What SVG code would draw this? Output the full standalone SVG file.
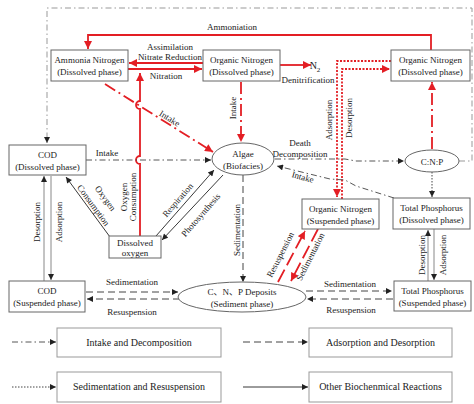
<svg xmlns="http://www.w3.org/2000/svg" width="474" height="404" viewBox="0 0 474 404">
<style>
text{font-family:"Liberation Serif","Noto Sans CJK SC",serif;font-size:9px;fill:#222;text-anchor:middle}
.lg{font-size:10px}
.box{fill:#fff;stroke:#666;stroke-width:1}
.lbox{fill:#fff;stroke:#999;stroke-width:1}
.red{stroke:#e31e24;stroke-width:1.8;fill:none}
.rdd{stroke:#e31e24;stroke-width:1.8;fill:none;stroke-dasharray:12 4 2 4}
.rdot{stroke:#e31e24;stroke-width:1.8;fill:none;stroke-dasharray:2 1.5}
.rdash{stroke:#e31e24;stroke-width:1.8;fill:none;stroke-dasharray:14 5}
.blk{stroke:#222;stroke-width:0.9;fill:none}
.dd{stroke:#444;stroke-width:0.9;fill:none;stroke-dasharray:6 3 1.5 3}
.dash{stroke:#444;stroke-width:1;fill:none;stroke-dasharray:7 4}
.dot{stroke:#444;stroke-width:1;fill:none;stroke-dasharray:1.5 1.5}
.gry{stroke:#888;stroke-width:1;fill:none}
.gdd{stroke:#999;stroke-width:1;fill:none;stroke-dasharray:6 3 1.5 3}
</style>
<defs>
<marker id="ar" viewBox="0 0 10 10" refX="10" refY="5" markerWidth="9" markerHeight="8" markerUnits="userSpaceOnUse" orient="auto"><path d="M0,0 L10,5 L0,10 z" fill="#e31e24"/></marker>
<marker id="ab" viewBox="0 0 10 10" refX="10" refY="5" markerWidth="8" markerHeight="6" markerUnits="userSpaceOnUse" orient="auto"><path d="M0,0 L10,5 L0,10 z" fill="#222"/></marker>
</defs>

<g id="connectors">
<!-- outer gray loop -->
<path class="gdd" d="M459,161 H472 V8 H47 V143" marker-end="url(#ab)"/>
<!-- Ammoniation -->
<path class="red" d="M431,50 V35 H88 V49" marker-end="url(#ar)"/>
<!-- Assimilation / Nitrate Reduction -->
<path class="red" d="M203,63 H129" marker-end="url(#ar)"/>
<!-- Nitration -->
<path class="red" d="M128,69 H202" marker-end="url(#ar)"/>
<!-- Denitrification -->
<path class="red" d="M280,65 H311" marker-end="url(#ar)"/>
<!-- Oxygen consumption red vertical with jumps -->
<path class="red" d="M140,236 V164 A4,4 0 0 1 140,156 V109 A4,4 0 0 1 140,101 V73" marker-end="url(#ar)"/>
<!-- Intake from Ammonia to Algae -->
<path class="rdd" d="M105,84 L213,152" marker-end="url(#ar)"/>
<!-- Intake organic N to algae -->
<path class="rdd" d="M241,82 V142" marker-end="url(#ar)"/>
<!-- Adsorption / Desorption dotted red -->
<path class="rdot" d="M391,61 H337 V197" marker-end="url(#ar)"/>
<path class="rdot" d="M342,199 V69 H390" marker-end="url(#ar)"/>
<!-- C:N:P to organic N dissolved -->
<path class="rdd" d="M432,149 V82" marker-end="url(#ar)"/>
<!-- COD intake -->
<path class="dd" d="M86,160 H211" marker-end="url(#ab)"/>
<!-- Death decomposition -->
<path class="dd" d="M275,159 H345 L356,161 H404" marker-end="url(#ab)"/>
<!-- Intake from TP -->
<path class="dd" d="M394,198 L356,186 L345,180 L330,179 L277,166" marker-end="url(#ab)"/>
<!-- C:N:P to TP dissolved -->
<path class="dot" d="M432,172 V197" marker-end="url(#ab)"/>
<!-- DO to COD -->
<path class="blk" d="M110,237 L66,177" marker-end="url(#ab)"/>
<!-- Respiration -->
<path class="blk" d="M156,236 L214,170" marker-end="url(#ab)"/>
<!-- Photosynthesis -->
<path class="blk" d="M223,175 L162,240" marker-end="url(#ab)"/>
<!-- Algae sedimentation -->
<path class="dash" d="M243,175 V282" marker-end="url(#ab)"/>
<!-- COD desorption/adsorption -->
<path class="gry" d="M44,281 V176" marker-end="url(#ab)"/>
<path class="gry" d="M51,176 V280" marker-end="url(#ab)"/>
<!-- TP desorption/adsorption -->
<path class="gry" d="M428,281 V230" marker-end="url(#ab)"/>
<path class="gry" d="M434,229 V280" marker-end="url(#ab)"/>
<!-- COD <-> deposits -->
<path class="dash" d="M86,292 H178" marker-end="url(#ab)"/>
<path class="dash" d="M180,299 H87" marker-end="url(#ab)"/>
<!-- deposits <-> TP -->
<path class="dash" d="M306,291 H392" marker-end="url(#ab)"/>
<path class="dash" d="M393,299 H307" marker-end="url(#ab)"/>
<!-- red resuspension/sedimentation -->
<path class="rdash" d="M278,282 L305,231" marker-end="url(#ar)"/>
<path class="rdash" d="M318,229 L291,281" marker-end="url(#ar)"/>
<!-- legend arrows -->
<path class="dd" d="M12,342 H56" marker-end="url(#ab)"/>
<path class="dash" d="M243,342 H308" marker-end="url(#ab)"/>
<path class="dot" d="M12,387 H56" marker-end="url(#ab)"/>
<path class="blk" d="M243,387 H308" marker-end="url(#ab)"/>
</g>

<g id="labels">
<text x="232" y="30">Ammoniation</text>
<text x="170" y="50">Assimilation</text>
<text x="170" y="60">Nitrate Reduction</text>
<text x="166" y="79">Nitration</text>
<text x="315" y="69" style="font-size:10px">N<tspan dy="3" style="font-size:7px">2</tspan></text>
<text x="308" y="83">Denitrification</text>
<text transform="translate(168,121) rotate(32)">Intake</text>
<text transform="translate(236,108) rotate(-90)">Intake</text>
<text transform="translate(332,120) rotate(-90)">Adsorption</text>
<text transform="translate(352,118) rotate(-90)">Desorption</text>
<text x="107" y="156">Intake</text>
<text x="300" y="146">Death</text>
<text x="300" y="157">Decomposition</text>
<text transform="translate(302,180) rotate(15)">Intake</text>
<text transform="translate(127,197) rotate(-90)">Oxygen</text>
<text transform="translate(136,197) rotate(-90)">Consumption</text>
<text transform="translate(103,200) rotate(54)">Oxygen</text>
<text transform="translate(91,207) rotate(54)">Consumption</text>
<text transform="translate(180,202) rotate(-49)">Respiration</text>
<text transform="translate(203,217) rotate(-49)">Photosynthesis</text>
<text transform="translate(240,230) rotate(-90)">Sedimentation</text>
<text transform="translate(40,222) rotate(-90)">Desorption</text>
<text transform="translate(62,222) rotate(-90)">Adsorption</text>
<text transform="translate(425,255) rotate(-90)">Desorption</text>
<text transform="translate(446,255) rotate(-90)">Adsorption</text>
<text transform="translate(283,256) rotate(-63)">Resuspension</text>
<text transform="translate(313,258) rotate(-63)">Sedimentation</text>
<text x="132" y="285">Sedimentation</text>
<text x="132" y="315">Resuspension</text>
<text x="350" y="287">Sedimentation</text>
<text x="351" y="313">Resuspension</text>
</g>

<g id="ammonia-n">
<rect class="box" x="51" y="50" width="77" height="31"/>
<text x="89.5" y="63">Ammonia Nitrogen</text>
<text x="89.5" y="75">(Dissolved phase)</text>
</g>
<g id="organic-n-dissolved">
<rect class="box" x="203" y="50" width="77" height="31"/>
<text x="241.5" y="63">Organic Nitrogen</text>
<text x="241.5" y="75">(Dissolved phase)</text>
</g>
<g id="organic-n-dissolved-2">
<rect class="box" x="391" y="50" width="79" height="31"/>
<text x="430.5" y="63">Organic Nitrogen</text>
<text x="430.5" y="75">(Dissolved phase)</text>
</g>
<g id="cod-dissolved">
<rect class="box" x="9" y="145" width="77" height="30"/>
<text x="47.5" y="158">COD</text>
<text x="47.5" y="170">(Dissolved phase)</text>
</g>
<g id="algae">
<ellipse class="box" cx="243" cy="159" rx="31" ry="16"/>
<text x="243" y="157">Algae</text>
<text x="243" y="169">(Biofacies)</text>
</g>
<g id="cnp">
<ellipse class="box" cx="432" cy="161" rx="27" ry="11"/>
<text x="432" y="164.5">C:N:P</text>
</g>
<g id="dissolved-oxygen">
<rect class="box" x="109" y="236" width="52" height="22"/>
<text x="135" y="246">Dissolved</text>
<text x="135" y="256">oxygen</text>
</g>
<g id="organic-n-suspended">
<rect class="box" x="302" y="199" width="77" height="30"/>
<text x="340.5" y="212">Organic Nitrogen</text>
<text x="340.5" y="224">(Suspended phase)</text>
</g>
<g id="tp-dissolved">
<rect class="box" x="393" y="198" width="77" height="31"/>
<text x="431.5" y="211">Total Phosphorus</text>
<text x="431.5" y="223">(Dissolved phase)</text>
</g>
<g id="cod-suspended">
<rect class="box" x="9" y="281" width="76" height="31"/>
<text x="47" y="294">COD</text>
<text x="47" y="306">(Suspended phase)</text>
</g>
<g id="deposits">
<ellipse class="box" cx="242" cy="297" rx="64" ry="15"/>
<text x="242" y="295">C、N、P Deposits</text>
<text x="242" y="307">(Sediment phase)</text>
</g>
<g id="tp-suspended">
<rect class="box" x="394" y="281" width="77" height="30"/>
<text x="432.5" y="294">Total Phosphorus</text>
<text x="432.5" y="306">(Suspended phase)</text>
</g>

<g id="legend">
<rect class="lbox" x="57" y="328" width="164" height="29"/>
<text class="lg" x="139" y="346">Intake and Decomposition</text>
<rect class="lbox" x="309" y="328" width="143" height="29"/>
<text class="lg" x="380.5" y="346">Adsorption and Desorption</text>
<rect class="lbox" x="57" y="372" width="164" height="30"/>
<text class="lg" x="139" y="390">Sedimentation and Resuspension</text>
<rect class="lbox" x="309" y="372" width="143" height="30"/>
<text class="lg" x="380.5" y="390">Other Biochenmical Reactions</text>
</g>
</svg>
